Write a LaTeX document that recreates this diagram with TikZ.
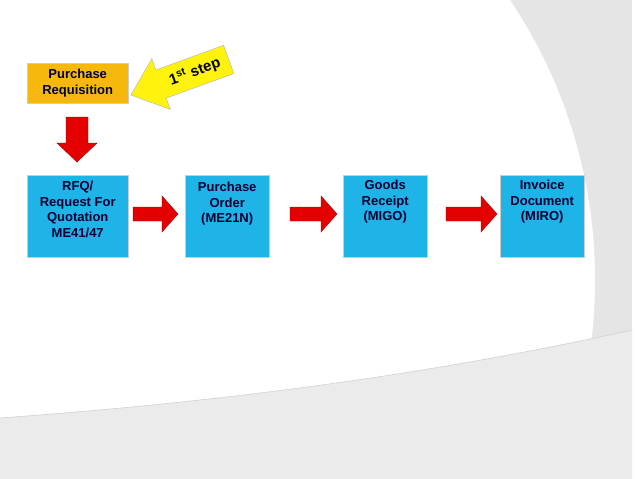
\documentclass[tikz,border=0pt]{standalone}
\usepackage{fontspec}
\setmainfont{Liberation Sans}
\definecolor{boxblue}{RGB}{30,180,232}
\definecolor{boxgold}{RGB}{246,184,10}
\begin{document}
\begin{tikzpicture}[x=1pt,y=-1pt,
 txt/.style={align=center,font=\bfseries\fontsize{13}{15.5}\selectfont,text=black!80!blue,anchor=north,inner sep=0pt},
 blue/.style={draw=black!20,fill=boxblue,minimum width=84pt,minimum height=82pt,anchor=north west},
 redarr/.style={fill=red!90!black,draw=red!60!black,line width=0.4pt}]
\useasboundingbox (0,0) rectangle (638,479);
\fill[black!10] (0,0) rectangle (632,479);
\fill[white] (92,280) circle (503);
\fill[black!8] (0,479) -- (0,418) .. controls (250,400) and (450,370) .. (632,330) -- (632,479) -- cycle;
\draw[black!18,line width=0.6pt] (0,418) .. controls (250,400) and (450,370) .. (632,330);
% boxes
\node[draw=black!20,fill=boxgold,minimum width=101pt,minimum height=40pt,anchor=north west,inner sep=0pt] (pr) at (27,63) {};
\node[txt,anchor=center] (prt) at (pr.center) {Purchase\\Requisition};
\node[blue,minimum width=101pt] (rfq) at (27,175) {};
\node[txt] (rfqt) at ([yshift=-6pt]rfq.north) {RFQ/\\Request For\\Quotation\\ME41/47};
\node[blue] (po) at (185,175) {};
\node[txt] (pot) at ([yshift=-7pt]po.north) {Purchase\\Order\\(ME21N)};
\node[blue] (gr) at (343,175) {};
\node[txt] (grt) at ([yshift=-5pt]gr.north) {Goods\\Receipt\\(MIGO)};
\node[blue] (iv) at (500,175) {};
\node[txt] (ivt) at ([yshift=-5pt]iv.north) {Invoice\\Document\\(MIRO)};
% down arrow
\draw[redarr] (66,117) -- (88,117) -- (88,143) -- (97,143) -- (77,162) -- (57,143) -- (66,143) -- cycle;
% right arrows
\foreach \a/\b in {133/178,290/337,446/497}{
 \draw[redarr] (\a,207) -- (\b-16,207) -- (\b-16,196) -- (\b,214) -- (\b-16,232) -- (\b-16,221) -- (\a,221) -- cycle;}
% yellow arrow
\begin{scope}[shift={(131,95)},rotate=20]
\draw[fill=yellow!95!white,draw=black!30] (0,0) -- (32,-27) -- (32,-15) -- (104,-15) -- (104,15) -- (32,15) -- (32,27) -- cycle;
\node[font=\bfseries\fontsize{15}{15}\selectfont,text=black!85!blue,rotate=20,inner sep=1pt] (st) at (68,0) {1\textsuperscript{st} step};
\end{scope}
\end{tikzpicture}
\end{document}
